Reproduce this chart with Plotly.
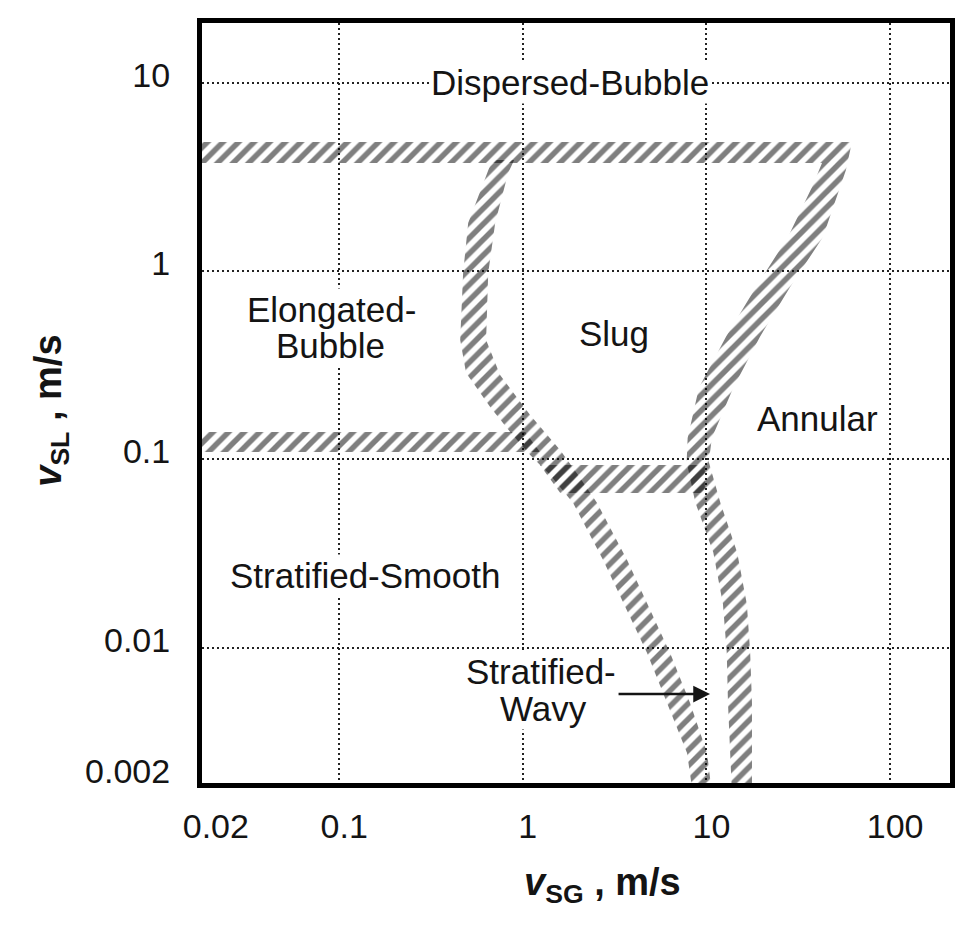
import numpy as np
import plotly.graph_objects as go

# ---- data (superficial velocities, m/s) ----
# Dispersed-bubble boundary (top band) + slug/annular diagonal + stratified-wavy/annular band
db_an_vsg = [0.015, 62.0, 57.5, 43.1, 28.5, 19.6, 14.0, 10.7, 10.3, 11.9, 14.7, 16.6, 17.3, 17.7, 17.7,
             13.8, 13.1, 12.9, 12.3, 10.9, 8.7, 7.8, 7.9, 9.1, 12.8, 18.6, 27.8, 37.6, 42.6, 0.015]
db_an_vsl = [4.85, 4.85, 3.44, 1.52, 0.82, 0.45, 0.24, 0.13, 0.097, 0.059, 0.032, 0.017, 0.0094, 0.0051, 0.0016,
             0.0016, 0.0051, 0.0094, 0.017, 0.032, 0.059, 0.097, 0.13, 0.24, 0.45, 0.82, 1.52, 2.80, 3.75, 3.75]

# Elongated-bubble / slug boundary continuing as stratified-smooth / stratified-wavy boundary
es_vsg = [0.681, 0.639, 0.504, 0.473, 0.456, 0.491, 0.664, 0.853, 1.096, 1.408, 1.878, 2.735, 3.516, 4.75,
          6.1, 7.84, 8.45, 10.73, 10.08, 8.14, 6.34, 4.75, 3.697, 2.538, 2.0, 1.596, 1.096, 0.752, 0.631,
          0.648, 0.707, 0.832, 0.897]
es_vsl = [3.89, 3.32, 1.80, 0.977, 0.4305, 0.2876, 0.1898, 0.1398, 0.1055, 0.0826, 0.0587, 0.0292, 0.01728,
          0.00937, 0.00508, 0.00276, 0.00165, 0.00165, 0.00276, 0.00508, 0.00937, 0.01728, 0.0292, 0.0587,
          0.0826, 0.1122, 0.172, 0.2806, 0.4305, 0.977, 1.80, 3.32, 3.89]

# Elongated-bubble / stratified-smooth boundary (left horizontal band)
ebss_vsg = [0.015, 1.03, 1.24, 0.015]
ebss_vsl = [0.140, 0.140, 0.1095, 0.1095]

# Slug / stratified-wavy boundary (short horizontal band)
slsw_vsg = [1.24, 9.8, 9.8, 1.6]
slsw_vsl = [0.0934, 0.0934, 0.0663, 0.0663]

bands = [(db_an_vsg, db_an_vsl), (es_vsg, es_vsl), (ebss_vsg, ebss_vsl), (slsw_vsg, slsw_vsl)]

# region labels (second lines listed before first lines so the upper line is drawn on top)
label_text = ["Dispersed-Bubble", "Bubble", "Elongated-", "Slug", "Annular",
              "Stratified-Smooth", "Wavy", "Stratified-"]
label_vsg = [1.8, 0.090, 0.0905, 3.14, 40.0, 0.139, 1.29, 1.26]
label_vsl = [10.0, 0.405, 0.625, 0.469, 0.164, 0.0243, 0.00475, 0.0075]

# arrow from "Stratified-Wavy" to the band
arrow_tail = (3.26, 0.00567)
arrow_head = (10.46, 0.00567)

# axes
x_tickvals = [0.02, 0.1, 1, 10, 100]
x_ticktext = ["0.02", "0.1", "1", "10", "100"]
y_tickvals = [0.002, 0.01, 0.1, 1, 10]
y_ticktext = ["0.002", "0.01", "0.1", "1", "10"]
x_grid = [0.1, 1, 10, 100]
y_grid = [0.01, 0.1, 1, 10]
x_range = [0.0179, 212.0]
y_range = [0.00191, 20.8]

FONT = "Liberation Sans, Arial, Helvetica, sans-serif"
INK = "#141414"

fig = go.Figure()
for bx, by in bands:
    fig.add_trace(go.Scatter(
        x=bx, y=by, mode="lines", fill="toself",
        line=dict(width=0, color="rgba(0,0,0,0)"),
        fillcolor="rgba(255,255,255,0)",
        fillpattern=dict(shape="/", size=11, solidity=0.5, fgcolor="black",
                         bgcolor="rgba(255,255,255,0)", fillmode="overlay"),
        hoverinfo="skip", showlegend=False))

for t, vx, vy in zip(label_text, label_vsg, label_vsl):
    fig.add_annotation(x=np.log10(vx), y=np.log10(vy), xref="x", yref="y", text=t,
                       showarrow=False, font=dict(family=FONT, size=35, color=INK),
                       bgcolor="white", borderpad=1, xanchor="center", yanchor="middle")

fig.add_annotation(x=np.log10(arrow_head[0]), y=np.log10(arrow_head[1]),
                   ax=np.log10(arrow_tail[0]), ay=np.log10(arrow_tail[1]),
                   xref="x", yref="y", axref="x", ayref="y", text="",
                   showarrow=True, arrowhead=2, arrowsize=1.4, arrowwidth=2.4, arrowcolor=INK)

# axis titles
fig.add_annotation(x=0.535, y=-0.134, xref="paper", yref="paper",
                   text="<b><i>v</i><sub>SG</sub>&nbsp;, m/s</b>", showarrow=False,
                   font=dict(family=FONT, size=38, color=INK), xanchor="center", yanchor="middle")
fig.add_annotation(x=-0.203, y=0.49, xref="paper", yref="paper", textangle=-90,
                   text="<b><i>v</i><sub>SL</sub>&nbsp;, m/s</b>", showarrow=False,
                   font=dict(family=FONT, size=38, color=INK), xanchor="center", yanchor="middle")

grid_style = dict(showgrid=True, gridcolor="#222222", gridwidth=1.6, griddash="2px,3px", ticks="")

fig.update_xaxes(type="log", range=[np.log10(x_range[0]), np.log10(x_range[1])],
                 tickmode="array", tickvals=x_tickvals, ticktext=x_ticktext,
                 showgrid=False, zeroline=False, ticks="",
                 minor=dict(tickmode="array", tickvals=x_grid, **grid_style),
                 showline=True, linewidth=5, linecolor="black", mirror=True,
                 tickfont=dict(family=FONT, size=34, color=INK),
                 ticklabelstandoff=9, ticklabelshift=5)
fig.update_yaxes(type="log", range=[np.log10(y_range[0]), np.log10(y_range[1])],
                 tickmode="array", tickvals=y_tickvals, ticktext=y_ticktext,
                 showgrid=False, zeroline=False, ticks="",
                 minor=dict(tickmode="array", tickvals=y_grid, **grid_style),
                 showline=True, linewidth=5, linecolor="black", mirror=True,
                 tickfont=dict(family=FONT, size=34, color=INK),
                 ticklabelstandoff=20, ticklabelshift=-8)

fig.update_layout(width=972, height=925, margin=dict(l=202, r=22, t=23, b=142),
                  plot_bgcolor="white", paper_bgcolor="white", showlegend=False)

fig.write_html("out.html")
